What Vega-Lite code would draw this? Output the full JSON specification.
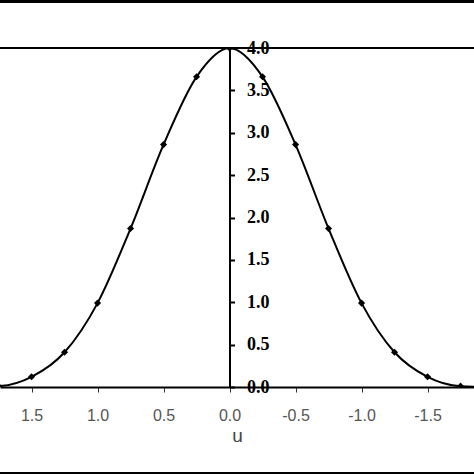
{
  "$schema": "https://vega.github.io/schema/vega-lite/v6.json",
  "width": 474,
  "height": 339,
  "autosize": {"type": "none"},
  "padding": {"top": 48, "left": 0, "right": 0, "bottom": 87},
  "background": "white",
  "data": {
    "values": [
      {"u": -2.0, "f": 0.0},
      {"u": -1.75, "f": 0.01},
      {"u": -1.5, "f": 0.12},
      {"u": -1.25, "f": 0.41},
      {"u": -1.0, "f": 0.99},
      {"u": -0.75, "f": 1.87},
      {"u": -0.5, "f": 2.86},
      {"u": -0.25, "f": 3.66},
      {"u": 0.0, "f": 4.0},
      {"u": 0.25, "f": 3.66},
      {"u": 0.5, "f": 2.86},
      {"u": 0.75, "f": 1.87},
      {"u": 1.0, "f": 0.99},
      {"u": 1.25, "f": 0.41},
      {"u": 1.5, "f": 0.12},
      {"u": 1.75, "f": 0.01},
      {"u": 2.0, "f": 0.0}
    ]
  },
  "encoding": {
    "x": {
      "field": "u",
      "type": "quantitative",
      "title": "u",
      "scale": {"domain": [-1.852, 1.739], "reverse": true, "nice": false, "zero": false},
      "axis": {
        "values": [-1.5, -1, -0.5, 0, 0.5, 1, 1.5],
        "format": ".1f",
        "labelExpr": "replace(datum.label, '−', '-')",
        "grid": false,
        "domainColor": "black",
        "domainWidth": 2,
        "tickColor": "#333",
        "tickSize": 5,
        "tickWidth": 1,
        "labelFont": "Liberation Sans",
        "labelFontSize": 16,
        "labelColor": "#555",
        "labelPadding": 15,
        "titleFont": "Liberation Sans",
        "titleFontSize": 19,
        "titleFontWeight": "normal",
        "titleColor": "#444",
        "titlePadding": 3
      }
    },
    "y": {
      "field": "f",
      "type": "quantitative",
      "title": null,
      "scale": {"domain": [0, 4], "nice": false},
      "axis": {
        "orient": "right",
        "offset": -244.5,
        "values": [0, 0.5, 1, 1.5, 2, 2.5, 3, 3.5, 4],
        "format": ".1f",
        "grid": false,
        "domainColor": "black",
        "domainWidth": 2,
        "tickColor": "black",
        "tickSize": 5,
        "tickWidth": 2,
        "labelFont": "Liberation Serif",
        "labelFontSize": 18,
        "labelFontWeight": "bold",
        "labelColor": "black",
        "labelPadding": 12
      }
    }
  },
  "layer": [
    {
      "mark": {"type": "line", "interpolate": "monotone", "color": "black", "strokeWidth": 2, "clip": true}
    },
    {
      "mark": {"type": "point", "shape": "diamond", "filled": true, "color": "black", "size": 50, "opacity": 1, "clip": true}
    },
    {
      "mark": {"type": "rule", "color": "black", "strokeWidth": 2},
      "encoding": {"x": null, "y": {"datum": 4}}
    },
    {
      "mark": {"type": "rule", "color": "black", "strokeWidth": 4},
      "encoding": {"x": null, "y": {"datum": 4.56}}
    },
    {
      "mark": {"type": "rule", "color": "black", "strokeWidth": 4},
      "encoding": {"x": null, "y": {"datum": -1.03}}
    }
  ],
  "config": {"view": {"stroke": null}}
}
